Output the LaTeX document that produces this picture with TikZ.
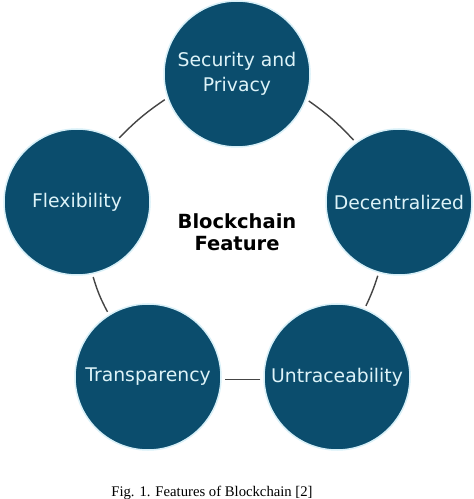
\documentclass[tikz,border=0pt]{standalone}
\usepackage{fontspec}
\setmainfont{Liberation Serif}
\newfontfamily\featfont{DejaVu Sans}
\usepackage{tikz}
\usetikzlibrary{positioning}
\definecolor{featblue}{HTML}{0B4D6D}
\definecolor{feattext}{HTML}{DDF3F8}
\definecolor{featrim}{HTML}{D8F0F8}
\definecolor{ringgray}{HTML}{454545}
\tikzset{
  feature/.style={circle, draw=featrim, line width=1.5pt, fill=featblue,
    minimum size=146pt, inner sep=0pt, align=center, text=feattext,
    font=\featfont\fontsize{18.8}{25}\selectfont},
  ring/.style={draw=ringgray, line width=1.4pt, shorten <=3pt, shorten >=3pt},
}

\begin{document}
\begin{tikzpicture}[x=1pt, y=1pt]
      \useasboundingbox (0, 0) rectangle (474, 499);
      \fill[white] (0, 0) rectangle (474, 499); %
      % the five features
      \node[feature] (sec) at (237, 425) {Security and\\Privacy};
      \node[feature] (dec) at (399, 297) {Decentralized};
      \node[feature] (unt) at (337, 122) {Untraceability};
      \node[feature] (tra) at (148, 122) {Transparency};
      \node[feature] (flex) at (77, 297) {Flexibility};
      \node[align=center, font=\featfont\bfseries\fontsize{19.5}{22}\selectfont] (core) at (237, 267) {Blockchain\\Feature};
      % ring between them
      \draw[ring] (sec.-20) to[bend left=6] (dec.126);
      \draw[ring] (dec.254) to[bend left=4] (unt.68);
      \draw[ring] (unt.182) -- (tra.-2);
      \draw[ring] (tra.122) to[bend left=6] (flex.-78);
      \draw[ring] (flex.57) to[bend left=6] (sec.199);
      \node[font=\fontsize{14.7}{17}\selectfont] (caption) at (212, 6) {Fig. 1. Features of Blockchain [2]};
    \end{tikzpicture}
\end{document}
